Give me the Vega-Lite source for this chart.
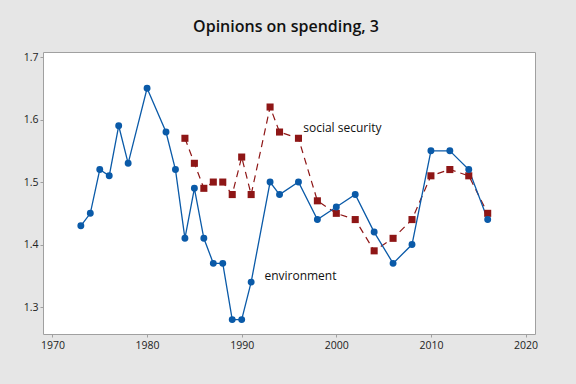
{
  "$schema": "https://vega.github.io/schema/vega-lite/v6.json",
  "width": 492,
  "height": 282,
  "autosize": {"type": "none"},
  "padding": {"left": 43, "top": 52, "right": 41, "bottom": 50},
  "background": "#e6e6e6",
  "view": {"fill": "white", "stroke": "#a0a0a0", "strokeWidth": 1},
  "title": {
    "text": "Opinions on spending, 3",
    "font": "Open Sans",
    "fontSize": 16,
    "fontWeight": 600,
    "color": "#111111",
    "anchor": "middle",
    "offset": 17,
    "dx": -3
  },
  "datasets": {
    "series": [
      {"year": 1973, "value": 1.43, "series": "environment"},
      {"year": 1974, "value": 1.45, "series": "environment"},
      {"year": 1975, "value": 1.52, "series": "environment"},
      {"year": 1976, "value": 1.51, "series": "environment"},
      {"year": 1977, "value": 1.59, "series": "environment"},
      {"year": 1978, "value": 1.53, "series": "environment"},
      {"year": 1980, "value": 1.65, "series": "environment"},
      {"year": 1982, "value": 1.58, "series": "environment"},
      {"year": 1983, "value": 1.52, "series": "environment"},
      {"year": 1984, "value": 1.41, "series": "environment"},
      {"year": 1985, "value": 1.49, "series": "environment"},
      {"year": 1986, "value": 1.41, "series": "environment"},
      {"year": 1987, "value": 1.37, "series": "environment"},
      {"year": 1988, "value": 1.37, "series": "environment"},
      {"year": 1989, "value": 1.28, "series": "environment"},
      {"year": 1990, "value": 1.28, "series": "environment"},
      {"year": 1991, "value": 1.34, "series": "environment"},
      {"year": 1993, "value": 1.50, "series": "environment"},
      {"year": 1994, "value": 1.48, "series": "environment"},
      {"year": 1996, "value": 1.50, "series": "environment"},
      {"year": 1998, "value": 1.44, "series": "environment"},
      {"year": 2000, "value": 1.46, "series": "environment"},
      {"year": 2002, "value": 1.48, "series": "environment"},
      {"year": 2004, "value": 1.42, "series": "environment"},
      {"year": 2006, "value": 1.37, "series": "environment"},
      {"year": 2008, "value": 1.40, "series": "environment"},
      {"year": 2010, "value": 1.55, "series": "environment"},
      {"year": 2012, "value": 1.55, "series": "environment"},
      {"year": 2014, "value": 1.52, "series": "environment"},
      {"year": 2016, "value": 1.44, "series": "environment"},
      {"year": 1984, "value": 1.57, "series": "social security"},
      {"year": 1985, "value": 1.53, "series": "social security"},
      {"year": 1986, "value": 1.49, "series": "social security"},
      {"year": 1987, "value": 1.50, "series": "social security"},
      {"year": 1988, "value": 1.50, "series": "social security"},
      {"year": 1989, "value": 1.48, "series": "social security"},
      {"year": 1990, "value": 1.54, "series": "social security"},
      {"year": 1991, "value": 1.48, "series": "social security"},
      {"year": 1993, "value": 1.62, "series": "social security"},
      {"year": 1994, "value": 1.58, "series": "social security"},
      {"year": 1996, "value": 1.57, "series": "social security"},
      {"year": 1998, "value": 1.47, "series": "social security"},
      {"year": 2000, "value": 1.45, "series": "social security"},
      {"year": 2002, "value": 1.44, "series": "social security"},
      {"year": 2004, "value": 1.39, "series": "social security"},
      {"year": 2006, "value": 1.41, "series": "social security"},
      {"year": 2008, "value": 1.44, "series": "social security"},
      {"year": 2010, "value": 1.51, "series": "social security"},
      {"year": 2012, "value": 1.52, "series": "social security"},
      {"year": 2014, "value": 1.51, "series": "social security"},
      {"year": 2016, "value": 1.45, "series": "social security"}
    ],
    "labels": [
      {"year": 1996.5, "value": 1.587, "label": "social security"},
      {"year": 1992.4, "value": 1.35, "label": "environment"}
    ]
  },
  "encoding": {
    "x": {
      "field": "year",
      "type": "quantitative",
      "scale": {"domain": [1969, 2021], "nice": false, "zero": false},
      "axis": {
        "title": null,
        "values": [1970, 1980, 1990, 2000, 2010, 2020],
        "format": "d",
        "grid": false,
        "domain": false,
        "tickColor": "#a0a0a0",
        "tickSize": 3,
        "labelFont": "Open Sans",
        "labelFontSize": 10.5,
        "labelColor": "#222222",
        "labelPadding": 3
      }
    },
    "y": {
      "field": "value",
      "type": "quantitative",
      "scale": {"domain": [1.257, 1.708], "nice": false, "zero": false},
      "axis": {
        "title": null,
        "values": [1.3, 1.4, 1.5, 1.6, 1.7],
        "format": ".1f",
        "grid": false,
        "domain": false,
        "tickColor": "#a0a0a0",
        "tickSize": 3,
        "labelFont": "Open Sans",
        "labelFontSize": 10.5,
        "labelColor": "#222222",
        "labelPadding": 2
      }
    }
  },
  "layer": [
    {
      "data": {"name": "series"},
      "transform": [{"filter": "datum.series === 'social security'"}],
      "mark": {"type": "line", "color": "#8e1616", "strokeWidth": 1.2, "strokeDash": [7, 5]}
    },
    {
      "data": {"name": "series"},
      "transform": [{"filter": "datum.series === 'environment'"}],
      "mark": {"type": "line", "color": "#0a5aa8", "strokeWidth": 1.3}
    },
    {
      "data": {"name": "series"},
      "transform": [{"filter": "datum.series === 'social security'"}],
      "mark": {"type": "point", "shape": "square", "filled": true, "color": "#8e1616", "size": 50, "opacity": 1}
    },
    {
      "data": {"name": "series"},
      "transform": [{"filter": "datum.series === 'environment'"}],
      "mark": {"type": "point", "shape": "circle", "filled": true, "color": "#0a5aa8", "size": 48, "opacity": 1}
    },
    {
      "data": {"name": "labels"},
      "mark": {"type": "text", "align": "left", "baseline": "middle", "font": "Open Sans", "fontSize": 12, "color": "#111111"},
      "encoding": {"text": {"field": "label"}}
    }
  ]
}
